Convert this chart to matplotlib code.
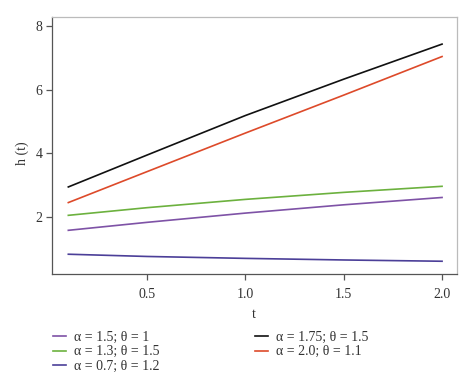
import matplotlib
matplotlib.use("Agg")
import matplotlib.pyplot as plt
from matplotlib.lines import Line2D

plt.rcParams['font.family'] = ['Liberation Serif', 'DejaVu Serif']

t = [0.1, 0.5, 1.0, 1.5, 2.0]
h_a15_t1 = [1.59, 1.84, 2.13, 2.39, 2.62]
h_a13_t15 = [2.06, 2.30, 2.56, 2.78, 2.97]
h_a07_t12 = [0.84, 0.77, 0.71, 0.66, 0.62]
h_a175_t15 = [2.95, 3.95, 5.19, 6.33, 7.43]
h_a20_t11 = [2.46, 3.43, 4.64, 5.83, 7.04]

labels = ["α = 1.5; θ = 1", "α = 1.3; θ = 1.5", "α = 0.7; θ = 1.2",
          "α = 1.75; θ = 1.5", "α = 2.0; θ = 1.1"]
colors = ["#7e52a6", "#6cb13e", "#4b3f98", "#111111", "#dd4a2a"]
series = [h_a15_t1, h_a13_t15, h_a07_t12, h_a175_t15, h_a20_t11]

fig = plt.figure(figsize=(4.74, 3.86), dpi=100)
ax = fig.add_axes([52/474, 1-274/386, 405/474, 257/386])
for s, c, l in zip(series, colors, labels):
    ax.plot(t, s, color=c, lw=1.2, label=l)

ax.set_xlim(0.017, 2.076)
ax.set_ylim(0.22, 8.28)
ax.set_xticks([0.5, 1.0, 1.5, 2.0])
ax.set_xticklabels(["0.5", "1.0", "1.5", "2.0"])
ax.set_yticks([2, 4, 6, 8])
for sp in ["left", "bottom"]:
    ax.spines[sp].set_color("#555555")
    ax.spines[sp].set_linewidth(0.9)
for sp in ["top", "right"]:
    ax.spines[sp].set_color("#bbbbbb")
    ax.spines[sp].set_linewidth(0.9)
ax.tick_params(direction="out", length=4, width=0.9, color="#555555",
               labelsize=10, labelcolor="#333333")
ax.tick_params(axis="x", pad=6)
ax.tick_params(axis="y", pad=3)
ax.set_xlabel("t", fontsize=10, color="#333333")
ax.set_ylabel("h (t)", fontsize=10, color="#333333")
ax.xaxis.set_label_coords(0.499, -0.156)
ax.yaxis.set_label_coords(-0.074, 0.47)
ax.xaxis.label.set_va("center")
ax.yaxis.label.set_va("center")

handles = [Line2D([0], [0], color=c, lw=1.2) for c in colors]
kw = dict(loc="upper left", frameon=False, fontsize=10,
          handlelength=0.9, handletextpad=0.6, labelspacing=0.1,
          borderaxespad=0, borderpad=0, labelcolor="#333333")
fig.legend(handles[:3], labels[:3], bbox_to_anchor=(53/474, 1-331/386), **kw)
fig.legend(handles[3:], labels[3:], bbox_to_anchor=(255/474, 1-331/386), **kw)

fig.savefig("out.png", dpi=100)
